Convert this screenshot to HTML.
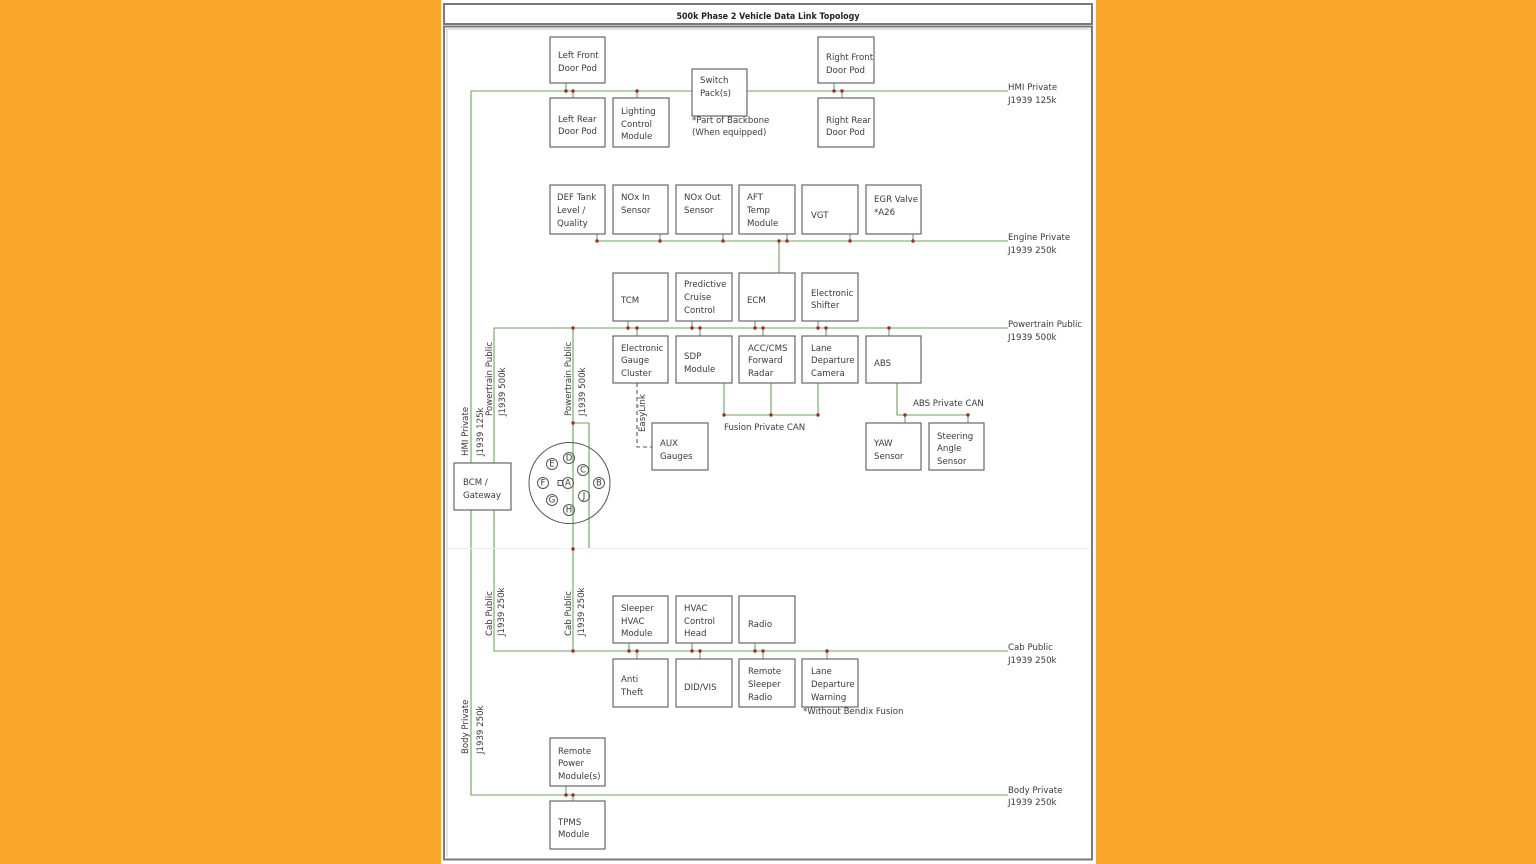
<!DOCTYPE html>
<html><head><meta charset="utf-8"><style>
html,body{margin:0;padding:0;background:#F9A62A;}
svg{display:block;}
text{font-family:"DejaVu Sans","Liberation Sans",sans-serif;font-size:8.6px;fill:#3a3a3a;}
.b{fill:#fff;stroke:#5a5a5a;stroke-width:1.1;}
.g{stroke:#6ba45a;stroke-width:1.1;fill:none;}
.d{fill:#a8282a;}
</style></head><body>
<svg width="1536" height="864" viewBox="0 0 1536 864" xmlns="http://www.w3.org/2000/svg">
<rect x="0" y="0" width="1536" height="864" fill="#F9A62A"/>
<rect x="441" y="0" width="655" height="864" fill="#fff"/>
<!-- frames -->
<rect x="444" y="4" width="648" height="20" fill="#fff" stroke="#7a7a7a" stroke-width="2"/>
<rect x="444" y="26.5" width="648" height="833" fill="#fff" stroke="#7a7a7a" stroke-width="2"/>
<line x1="446" y1="29" x2="1090" y2="29" stroke="#c8c8c8" stroke-width="1"/>
<line x1="447" y1="29" x2="447" y2="857" stroke="#c8c8c8" stroke-width="1"/>
<text x="768" y="19" text-anchor="middle" style="font-weight:bold;font-size:8.6px;fill:#222" textLength="183" lengthAdjust="spacingAndGlyphs">500k Phase 2 Vehicle Data Link Topology</text>

<!-- bus lines -->
<g class="g">
<polyline points="1008,91 471,91 471,795 1008,795"/>
<line x1="597" y1="241" x2="1008" y2="241"/>
<line x1="779" y1="241" x2="779" y2="273"/>
<polyline points="1008,328 494,328 494,651 1008,651"/>
<line x1="573" y1="328" x2="573" y2="651"/>
<polyline points="573,423 589,423 589,549"/>
<polyline points="724,383 724,415 818,415 818,383"/>
<line x1="771" y1="383" x2="771" y2="415"/>
<polyline points="897,383 897,415 968,415 968,423"/>
<line x1="905" y1="415" x2="905" y2="423"/>
<line x1="566" y1="83" x2="566" y2="91"/><line x1="573" y1="91" x2="573" y2="98"/>
<line x1="637" y1="91" x2="637" y2="98"/>
<line x1="834" y1="83" x2="834" y2="91"/><line x1="842" y1="91" x2="842" y2="98"/>
<line x1="597" y1="234" x2="597" y2="241"/><line x1="660" y1="234" x2="660" y2="241"/>
<line x1="723" y1="234" x2="723" y2="241"/><line x1="787" y1="234" x2="787" y2="241"/>
<line x1="850" y1="234" x2="850" y2="241"/><line x1="913" y1="234" x2="913" y2="241"/>
<line x1="628" y1="321" x2="628" y2="328"/><line x1="637" y1="328" x2="637" y2="336"/>
<line x1="692" y1="321" x2="692" y2="328"/><line x1="700" y1="328" x2="700" y2="336"/>
<line x1="755" y1="321" x2="755" y2="328"/><line x1="763" y1="328" x2="763" y2="336"/>
<line x1="818" y1="321" x2="818" y2="328"/><line x1="826" y1="328" x2="826" y2="336"/>
<line x1="889" y1="328" x2="889" y2="336"/>
<line x1="629" y1="643" x2="629" y2="651"/><line x1="637" y1="651" x2="637" y2="659"/>
<line x1="692" y1="643" x2="692" y2="651"/><line x1="700" y1="651" x2="700" y2="659"/>
<line x1="755" y1="643" x2="755" y2="651"/><line x1="763" y1="651" x2="763" y2="659"/>
<line x1="827" y1="651" x2="827" y2="659"/>
<line x1="566" y1="786" x2="566" y2="795"/><line x1="573" y1="795" x2="573" y2="801"/>
</g>
<line x1="448" y1="548.5" x2="1090" y2="548.5" stroke="#eeeeee" stroke-width="1"/>
<polyline points="637,383 637,447 652,447" fill="none" stroke="#555" stroke-width="1.1" stroke-dasharray="4,3"/>

<!-- boxes -->
<g class="b">
<rect x="550" y="37" width="55" height="46"/>
<rect x="550" y="98" width="55" height="49"/>
<rect x="613" y="98" width="56" height="49"/>
<rect x="692" y="69" width="55" height="47"/>
<rect x="818" y="37" width="56" height="46"/>
<rect x="818" y="98" width="56" height="49"/>

<rect x="550" y="185" width="55" height="49"/>
<rect x="613" y="185" width="55" height="49"/>
<rect x="676" y="185" width="56" height="49"/>
<rect x="739" y="185" width="56" height="49"/>
<rect x="802" y="185" width="56" height="49"/>
<rect x="866" y="185" width="55" height="49"/>

<rect x="613" y="273" width="55" height="48"/>
<rect x="676" y="273" width="56" height="48"/>
<rect x="739" y="273" width="56" height="48"/>
<rect x="802" y="273" width="56" height="48"/>

<rect x="613" y="336" width="55" height="47"/>
<rect x="676" y="336" width="56" height="47"/>
<rect x="739" y="336" width="56" height="47"/>
<rect x="802" y="336" width="56" height="47"/>
<rect x="866" y="336" width="55" height="47"/>

<rect x="652" y="423" width="56" height="47"/>
<rect x="866" y="423" width="55" height="47"/>
<rect x="929" y="423" width="55" height="47"/>

<rect x="454" y="463" width="57" height="47"/>

<rect x="613" y="596" width="55" height="47"/>
<rect x="676" y="596" width="56" height="47"/>
<rect x="739" y="596" width="56" height="47"/>
<rect x="613" y="659" width="55" height="48"/>
<rect x="676" y="659" width="56" height="48"/>
<rect x="739" y="659" width="56" height="48"/>
<rect x="802" y="659" width="56" height="48"/>

<rect x="550" y="738" width="55" height="48"/>
<rect x="550" y="801" width="55" height="48"/>
</g>

<!-- connector -->
<g fill="none" stroke="#555" stroke-width="1">
<circle cx="569.5" cy="483" r="40.5"/>
<circle cx="569" cy="458" r="5.5"/>
<circle cx="552" cy="464" r="5.5"/>
<circle cx="583" cy="470" r="5.5"/>
<circle cx="543" cy="483" r="5.5"/>
<circle cx="568" cy="483" r="5.5"/>
<circle cx="599" cy="483" r="5.5"/>
<circle cx="552" cy="500" r="5.5"/>
<circle cx="584" cy="496" r="5.5"/>
<circle cx="569" cy="510" r="5.5"/>
<rect x="558" y="480.5" width="5" height="5"/>
</g>
<g style="font-size:6.5px" text-anchor="middle">
<text x="569" y="460.5">D</text><text x="552" y="466.5">E</text><text x="583" y="472.5">C</text>
<text x="543" y="485.5">F</text><text x="568" y="485.5">A</text><text x="599" y="485.5">B</text>
<text x="552" y="502.5">G</text><text x="584" y="498.5">J</text><text x="569" y="512.5">H</text>
</g>

<!-- dots -->
<g class="d">
<circle cx="566" cy="91" r="1.7"/><circle cx="573" cy="91" r="1.7"/><circle cx="637" cy="91" r="1.7"/>
<circle cx="834" cy="91" r="1.7"/><circle cx="842" cy="91" r="1.7"/>
<circle cx="597" cy="241" r="1.7"/><circle cx="660" cy="241" r="1.7"/><circle cx="723" cy="241" r="1.7"/>
<circle cx="779" cy="241" r="1.7"/><circle cx="787" cy="241" r="1.7"/><circle cx="850" cy="241" r="1.7"/><circle cx="913" cy="241" r="1.7"/>
<circle cx="573" cy="328" r="1.7"/>
<circle cx="628" cy="328" r="1.7"/><circle cx="637" cy="328" r="1.7"/>
<circle cx="692" cy="328" r="1.7"/><circle cx="700" cy="328" r="1.7"/>
<circle cx="755" cy="328" r="1.7"/><circle cx="763" cy="328" r="1.7"/>
<circle cx="818" cy="328" r="1.7"/><circle cx="826" cy="328" r="1.7"/><circle cx="889" cy="328" r="1.7"/>
<circle cx="724" cy="415" r="1.7"/><circle cx="771" cy="415" r="1.7"/><circle cx="818" cy="415" r="1.7"/>
<circle cx="905" cy="415" r="1.7"/><circle cx="968" cy="415" r="1.7"/>
<circle cx="573" cy="423" r="1.7"/><circle cx="573" cy="549" r="1.7"/>
<circle cx="573" cy="651" r="1.7"/>
<circle cx="629" cy="651" r="1.7"/><circle cx="637" cy="651" r="1.7"/>
<circle cx="692" cy="651" r="1.7"/><circle cx="700" cy="651" r="1.7"/>
<circle cx="755" cy="651" r="1.7"/><circle cx="763" cy="651" r="1.7"/><circle cx="827" cy="651" r="1.7"/>
<circle cx="566" cy="795" r="1.7"/><circle cx="573" cy="795" r="1.7"/>
</g>

<!-- box texts -->
<g dominant-baseline="central">
<text x="558" y="56">Left Front</text><text x="558" y="69">Door Pod</text>
<text x="558" y="120">Left Rear</text><text x="558" y="132">Door Pod</text>
<text x="621" y="112">Lighting</text><text x="621" y="125">Control</text><text x="621" y="137">Module</text>
<text x="700" y="81">Switch</text><text x="700" y="94">Pack(s)</text>
<text x="692" y="121">*Part of Backbone</text><text x="692" y="133">(When equipped)</text>
<text x="826" y="58">Right Front</text><text x="826" y="71">Door Pod</text>
<text x="826" y="121">Right Rear</text><text x="826" y="133">Door Pod</text>
<text x="1008" y="88">HMI Private</text><text x="1008" y="101">J1939 125k</text>

<text x="557" y="198">DEF Tank</text><text x="557" y="211">Level /</text><text x="557" y="224">Quality</text>
<text x="621" y="198">NOx In</text><text x="621" y="211">Sensor</text>
<text x="684" y="198">NOx Out</text><text x="684" y="211">Sensor</text>
<text x="747" y="198">AFT</text><text x="747" y="211">Temp</text><text x="747" y="224">Module</text>
<text x="811" y="216">VGT</text>
<text x="874" y="200">EGR Valve</text><text x="874" y="213">*A26</text>
<text x="1008" y="238">Engine Private</text><text x="1008" y="251">J1939 250k</text>

<text x="621" y="301">TCM</text>
<text x="684" y="285">Predictive</text><text x="684" y="298">Cruise</text><text x="684" y="311">Control</text>
<text x="747" y="301">ECM</text>
<text x="811" y="294">Electronic</text><text x="811" y="306">Shifter</text>
<text x="1008" y="325">Powertrain Public</text><text x="1008" y="338">J1939 500k</text>

<text x="621" y="349">Electronic</text><text x="621" y="361">Gauge</text><text x="621" y="374">Cluster</text>
<text x="684" y="357">SDP</text><text x="684" y="370">Module</text>
<text x="748" y="349">ACC/CMS</text><text x="748" y="361">Forward</text><text x="748" y="374">Radar</text>
<text x="811" y="349">Lane</text><text x="811" y="361">Departure</text><text x="811" y="374">Camera</text>
<text x="874" y="364">ABS</text>
<text x="913" y="404">ABS Private CAN</text>
<text x="724" y="428">Fusion Private CAN</text>
<text x="660" y="444">AUX</text><text x="660" y="457">Gauges</text>
<text x="874" y="444">YAW</text><text x="874" y="457">Sensor</text>
<text x="937" y="437">Steering</text><text x="937" y="449">Angle</text><text x="937" y="462">Sensor</text>
<text x="463" y="483">BCM /</text><text x="463" y="496">Gateway</text>

<text x="621" y="609">Sleeper</text><text x="621" y="622">HVAC</text><text x="621" y="634">Module</text>
<text x="684" y="609">HVAC</text><text x="684" y="622">Control</text><text x="684" y="634">Head</text>
<text x="748" y="625">Radio</text>
<text x="621" y="680">Anti</text><text x="621" y="693">Theft</text>
<text x="684" y="688">DID/VIS</text>
<text x="748" y="672">Remote</text><text x="748" y="685">Sleeper</text><text x="748" y="698">Radio</text>
<text x="811" y="672">Lane</text><text x="811" y="685">Departure</text><text x="811" y="698">Warning</text>
<text x="803" y="712">*Without Bendix Fusion</text>
<text x="1008" y="648">Cab Public</text><text x="1008" y="661">J1939 250k</text>

<text x="558" y="752">Remote</text><text x="558" y="764">Power</text><text x="558" y="777">Module(s)</text>
<text x="558" y="823">TPMS</text><text x="558" y="835">Module</text>
<text x="1008" y="791">Body Private</text><text x="1008" y="803">J1939 250k</text>

<text transform="translate(466,456) rotate(-90)">HMI Private</text>
<text transform="translate(481,456) rotate(-90)">J1939 125k</text>
<text transform="translate(490,416) rotate(-90)">Powertrain Public</text>
<text transform="translate(503,416) rotate(-90)">J1939 500k</text>
<text transform="translate(569,416) rotate(-90)">Powertrain Public</text>
<text transform="translate(583,416) rotate(-90)">J1939 500k</text>
<text transform="translate(643,432) rotate(-90)">EasyLink</text>
<text transform="translate(490,636) rotate(-90)">Cab Public</text>
<text transform="translate(502,636) rotate(-90)">J1939 250k</text>
<text transform="translate(569,636) rotate(-90)">Cab Public</text>
<text transform="translate(582,636) rotate(-90)">J1939 250k</text>
<text transform="translate(466,754) rotate(-90)">Body Private</text>
<text transform="translate(481,754) rotate(-90)">J1939 250k</text>
</g>
</svg>
</body></html>
